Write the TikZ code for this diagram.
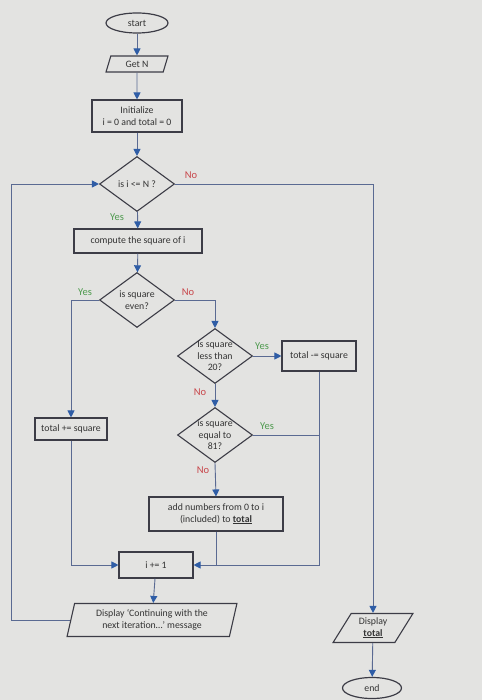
\documentclass[tikz,border=0pt]{standalone}
\usepackage{fontspec}
\setmainfont{Carlito}
\usetikzlibrary{shapes.geometric,arrows.meta}
\definecolor{bgc}{HTML}{E3E3E1}
\definecolor{edgec}{HTML}{3C3C46}
\definecolor{lineblue}{HTML}{5A6A92}
\definecolor{tipblue}{HTML}{2F5DA6}
\definecolor{nored}{HTML}{C8464A}
\definecolor{yesgreen}{HTML}{4E9A4E}
\definecolor{txt}{HTML}{333333}
\begin{document}
\begin{tikzpicture}[x=1pt,y=-1pt,
 font=\fontsize{9.8}{11.5}\selectfont, text=txt,
 box/.style={draw=edgec, line width=1.1pt, rectangle, inner sep=0pt, align=center},
 term/.style={draw=edgec, line width=1.2pt, ellipse, inner sep=0pt},
 dia/.style={draw=edgec, line width=1.1pt, diamond, inner sep=0pt, minimum width=75, minimum height=55},
 para/.style={draw=edgec, line width=1.1pt, trapezium, trapezium stretches=true, inner sep=0pt, align=center},
 lab/.style={align=center, inner sep=0pt},
 link/.style={draw=lineblue, line width=0.9pt},
 arr/.style={link, -{Triangle[length=7pt,width=7pt,color=tipblue]}},
 yes/.style={text=yesgreen, font=\fontsize{10.5}{12}\selectfont, inner sep=0pt},
 no/.style={text=nored, font=\fontsize{10.5}{12}\selectfont, inner sep=0pt},
]
\fill[bgc] (0,0) rectangle (482,700);
\useasboundingbox (0,0) rectangle (482,700);

\node[term, minimum width=62, minimum height=20] (start) at (137,23) {start};
\node[para, trapezium left angle=72, trapezium right angle=108, minimum width=62, minimum height=16] (getn) at (137,64) {Get N};
\node[box, minimum width=90, minimum height=32] (init) at (137,116) {Initialize\\ i = 0 and total = 0};
\node[dia] (d1) at (137,184) {};
\node[lab] (t1) at (d1) {is i <= N ?};
\node[box, minimum width=128, minimum height=24] (comp) at (138,241) {compute the square of i};
\node[dia] (d2) at (137,300) {};
\node[lab] (t2) at (d2) {is square\\ even?};
\node[dia] (d3) at (215,356) {};
\node[lab] (t3) at (d3) {Is square\\ less than\\ 20?};
\node[box, minimum width=74, minimum height=30] (tminus) at (319,356) {total -= square};
\node[dia] (d4) at (215,435) {};
\node[lab] (t4) at (d4) {is square\\ equal to\\ 81?};
\node[box, minimum width=72, minimum height=22] (tplus) at (71,429) {total += square};
\node[box, minimum width=134, minimum height=34] (add) at (216,514) {add numbers from 0 to i\\ (included) to \underline{\textbf{total}}};
\node[box, minimum width=74, minimum height=26] (inc) at (156,565) {i += 1};
\node[para, trapezium left angle=75, trapezium right angle=105, minimum width=170, minimum height=33] (disp) at (152,620) {Display ‘Continuing with the\\ next iteration…’ message};
\node[para, trapezium left angle=60, trapezium right angle=120, minimum width=80, minimum height=29] (dtot) at (373,628) {Display\\ \underline{\textbf{total}}};
\node[term, minimum width=59, minimum height=21] (end) at (372,688) {end};

\coordinate (lx) at (11,0);

\draw[arr] (start) -- (getn);
\draw[arr] (getn) -- (init);
\draw[arr] (init) -- (d1);
\draw[arr] (d1) -- (comp);
\draw[arr] (comp) -- (d2);
\draw[arr] (d1.east) -| (dtot.north);
\draw[arr] (d2.west) -| (tplus.north);
\draw[arr] (d2.east) -| (d3.north);
\draw[arr] (d3.east) -- (tminus.west);
\draw[arr] (d3.south) -- (d4.north);
\draw[arr] (d4.south) -- (add.north);
\draw[link] (d4.east) -- (d4.east -| tminus.south);
\draw[arr] (tminus.south) |- (inc.east);
\draw[link] (add.south) -- (add.south |- inc.east);
\draw[arr] (tplus.south) |- (inc.west);
\draw[arr] (inc) -- (disp);
\draw[arr] (disp.west) -- (disp.west -| lx) -- (d1.west -| lx) -- (d1.west);
\draw[arr] (dtot) -- (end);

\node[no] (n1) at (191,175) {No};
\node[yes] (y1) at (117,217) {Yes};
\node[yes] (y2) at (85,292) {Yes};
\node[no] (n2) at (188,292) {No};
\node[yes] (y3) at (262,346) {Yes};
\node[no] (n3) at (200,392) {No};
\node[yes] (y4) at (267,426) {Yes};
\node[no] (n4) at (203,470) {No};
\end{tikzpicture}
\end{document}
